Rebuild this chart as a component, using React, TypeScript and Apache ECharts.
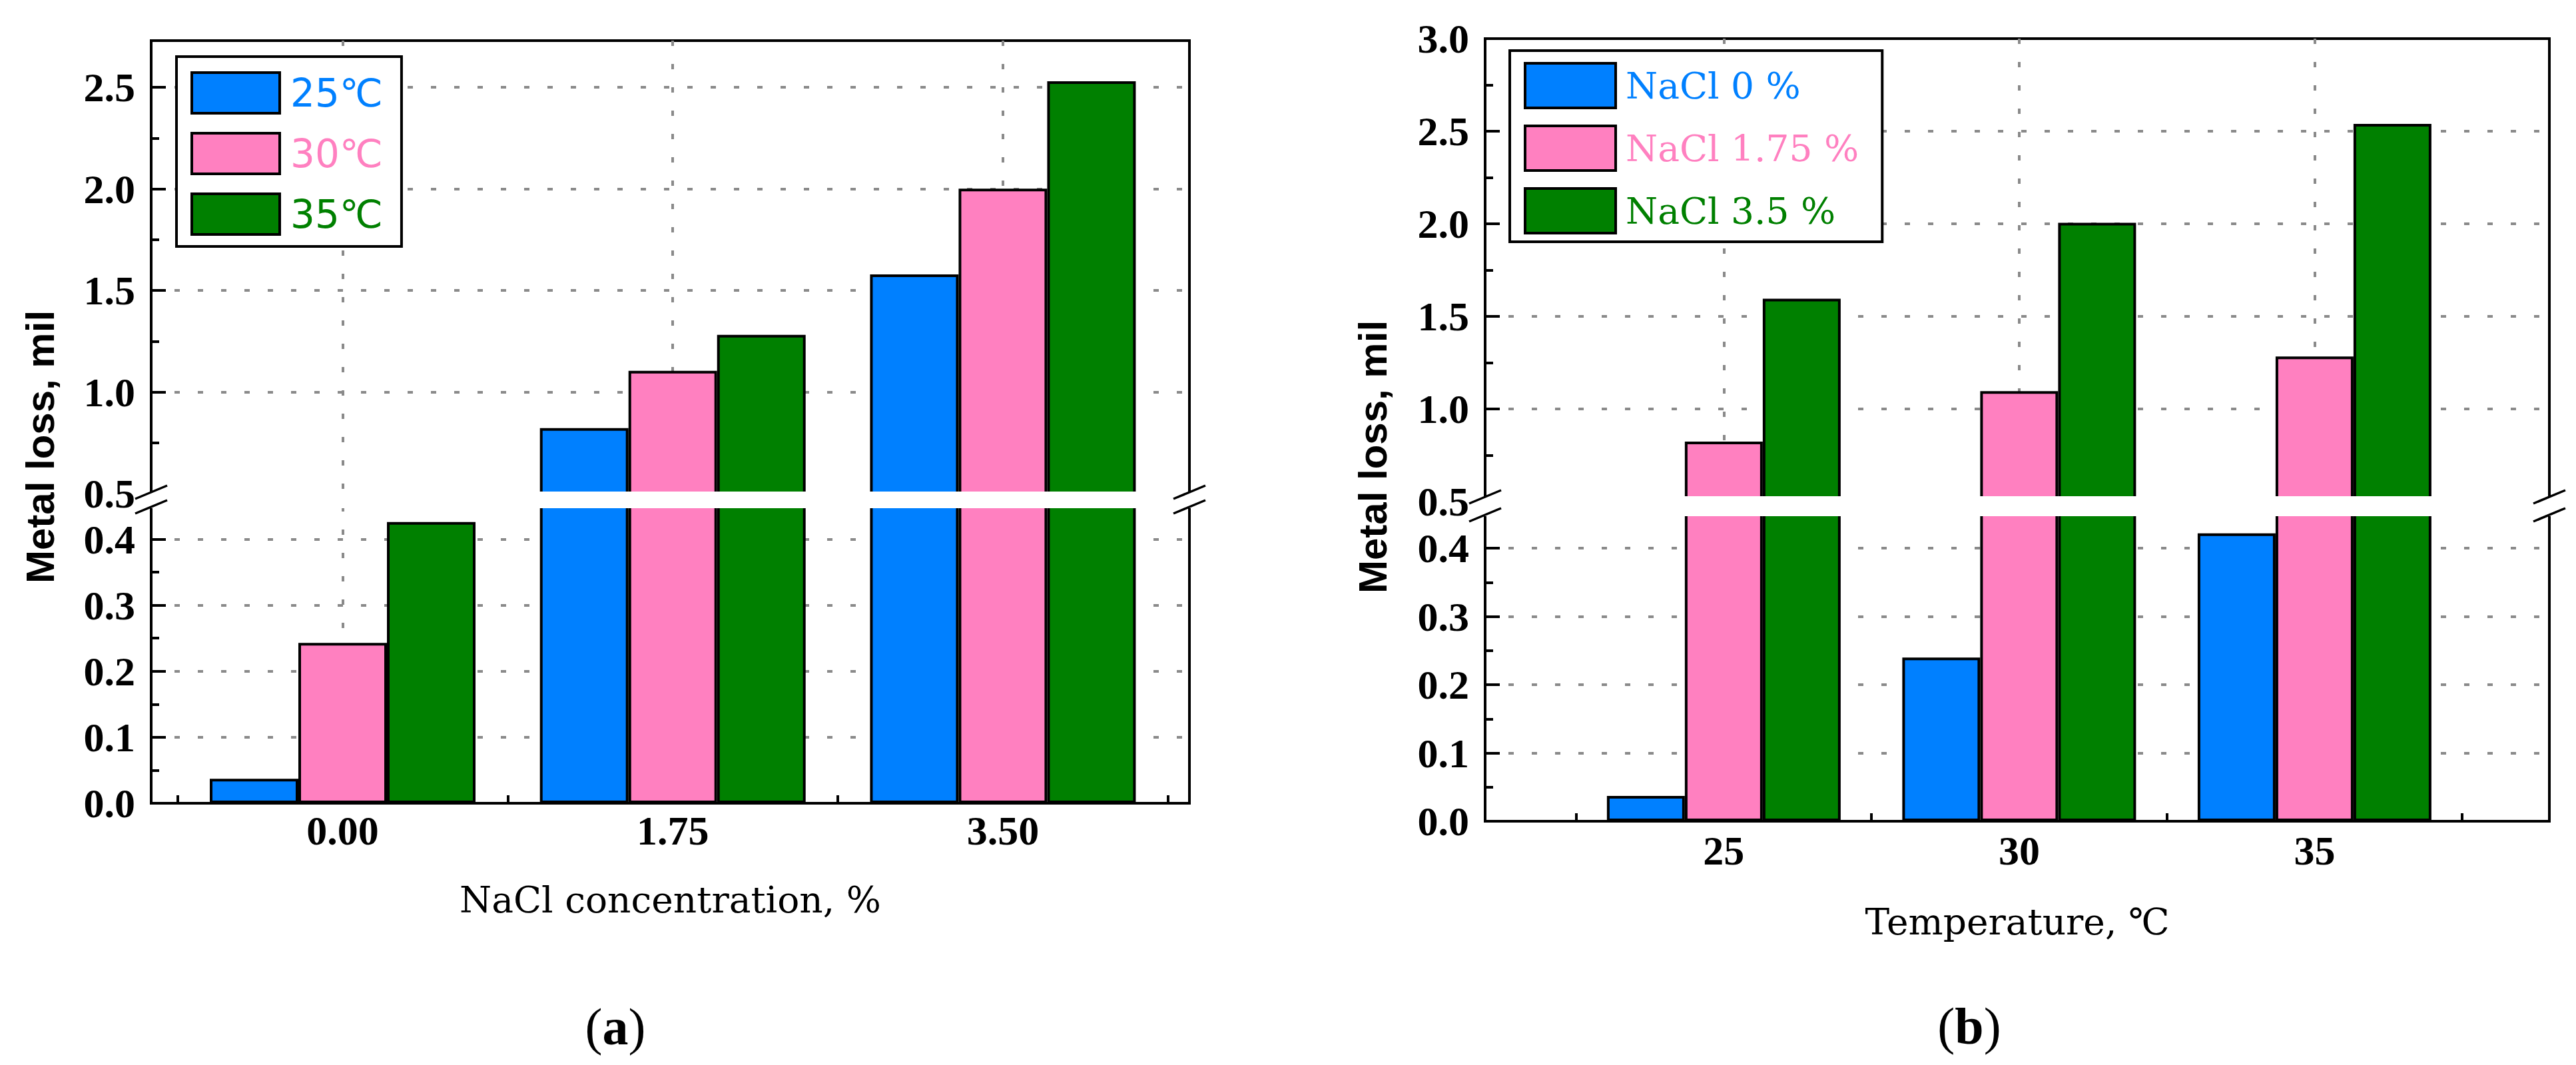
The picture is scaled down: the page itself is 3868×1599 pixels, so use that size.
import React, { useEffect, useRef } from 'react';
import * as echarts from 'echarts';

// ---------------- data ----------------
const positions = [1, 2, 3];
const minorPositions = [0.5, 1.5, 2.5, 3.5];

// (a) metal loss vs NaCl concentration
const naclLabels = ['0.00', '1.75', '3.50'];
const tempNames = ['25℃', '30℃', '35℃'];
const loss25C = [0.037, 0.822, 1.579];
const loss30C = [0.243, 1.104, 2.001];
const loss35C = [0.426, 1.281, 2.53];

// (b) metal loss vs temperature
const tempLabels = ['25', '30', '35'];
const naclNames = ['NaCl 0 %', 'NaCl 1.75 %', 'NaCl 3.5 %'];
const lossNaCl0 = [0.037, 0.24, 0.422];
const lossNaCl175 = [0.824, 1.096, 1.283];
const lossNaCl35 = [1.595, 2.005, 2.54];

// y tick values of the two axis segments
const lowerTickLabels = [0, 0.1, 0.2, 0.3, 0.4];
const upperTickLabelsA = [0.5, 1.0, 1.5, 2.0, 2.5];
const upperTickLabelsB = [0.5, 1.0, 1.5, 2.0, 2.5, 3.0];

const seriesColors = ['#0080FF', '#FF80C0', '#008000'];

// ---------------- layout ----------------
const panelA = {
  left: 227, right: 1786, upTop: 61, upBottom: 741, lowTop: 760, bottom: 1206,
  xMin: 0.42, xMax: 3.565, upMax: 2.73, barWidth: 133,
  gapTop: 738, gapBottom: 763, xLabelMargin: 10, xNameGap: 145,
  yTitleX: 60, yTitleY: 671, capX: 924, capY: 1541, capLetter: 'a',
  legend: {
    left: 265, top: 85, padding: [22, 28, 16, 21], itemWidth: 132, itemHeight: 61, itemGap: 26,
    font: 'DejaVu Sans', fontSize: 58, textPad: 11,
  },
};
const panelB = {
  left: 2230, right: 3828, upTop: 58, upBottom: 753, lowTop: 772, bottom: 1233,
  xMin: 0.192, xMax: 3.795, upMax: 3.0, barWidth: 117,
  gapTop: 745, gapBottom: 775, xLabelMargin: 13, xNameGap: 151,
  yTitleX: 2061, yTitleY: 686, capX: 2957, capY: 1540, capLetter: 'b',
  legend: {
    left: 2267, top: 76, padding: [17, 35, 11, 21], itemWidth: 136, itemHeight: 67, itemGap: 23,
    font: 'DejaVu Serif', fontSize: 55, textPad: 10,
  },
};

function buildPanel(
  P: any, idx: number, cats: string[], names: string[], values: number[][],
  upperLabels: number[], xTitle: string,
) {
  const g0 = idx * 2;
  const x0 = idx * 3;
  const y0 = idx * 2;
  const width = P.right - P.left;
  const black = { color: '#000', width: 4 };
  const gridBase = {
    show: true, borderColor: '#000', borderWidth: 4, backgroundColor: 'transparent',
    containLabel: false, outerBoundsMode: 'none',
  };
  const grids = [
    { ...gridBase, left: P.left, top: P.upTop, width, height: P.upBottom - P.upTop },
    { ...gridBase, left: P.left, top: P.lowTop, width, height: P.bottom - P.lowTop },
  ];
  const dotted = { color: '#8a8a8a', width: 4, type: [8, 27] };
  const splitLine = { show: true, lineStyle: dotted };
  const tickFont = { fontFamily: 'Liberation Serif', fontWeight: 'bold', fontSize: 62, color: '#000' };
  const baseX = { type: 'value', min: P.xMin, max: P.xMax, position: 'bottom' };
  const xAxes = [
    {
      ...baseX, gridIndex: g0,
      axisLine: { show: false, onZero: false },
      axisTick: { show: false, customValues: positions },
      axisLabel: { show: false, customValues: positions },
      splitLine,
    },
    {
      ...baseX, gridIndex: g0 + 1,
      axisLine: { show: true, onZero: false, lineStyle: black },
      axisTick: { show: true, inside: true, length: 22, customValues: positions, lineStyle: black },
      axisLabel: {
        show: true, customValues: positions, margin: P.xLabelMargin,
        formatter: (v: number) => cats[Math.round(v) - 1] ?? '', ...tickFont,
      },
      splitLine,
      name: xTitle, nameLocation: 'middle', nameGap: P.xNameGap,
      nameTextStyle: { fontFamily: 'DejaVu Serif', fontSize: 55, color: '#000', verticalAlign: 'middle' },
    },
    {
      ...baseX, gridIndex: g0 + 1,
      axisLine: { show: false, onZero: false },
      axisTick: { show: true, inside: true, length: 12, customValues: minorPositions, lineStyle: black },
      axisLabel: { show: false },
      splitLine: { show: false },
    },
  ];
  const baseY = {
    type: 'value',
    axisLine: { show: true, onZero: false, lineStyle: black },
    minorTick: { show: true, splitNumber: 2, length: 12, lineStyle: black },
    splitLine,
  };
  // ticks/grid lines only strictly inside each segment (the frame draws the edges)
  const upperTicks = upperLabels.filter((v) => v < P.upMax);
  const lowerTicks = lowerTickLabels.filter((v) => v > 0);
  const yAxes = [
    {
      ...baseY, gridIndex: g0, min: 0.5, max: P.upMax, interval: 0.5,
      axisTick: { show: true, inside: true, length: 22, customValues: upperTicks, lineStyle: black },
      axisLabel: { ...tickFont, margin: 24, customValues: upperLabels, formatter: (v: number) => v.toFixed(1) },
    },
    {
      ...baseY, gridIndex: g0 + 1, min: 0, max: 0.45, interval: 0.1,
      axisTick: { show: true, inside: true, length: 22, customValues: lowerTicks, lineStyle: black },
      axisLabel: { ...tickFont, margin: 24, customValues: lowerTickLabels, formatter: (v: number) => v.toFixed(1) },
    },
  ];
  const series: any[] = [];
  names.forEach((n, i) => {
    [0, 1].forEach((k) => {
      series.push({
        type: 'bar', name: n, xAxisIndex: x0 + k, yAxisIndex: y0 + k,
        data: positions.map((p, j) => [p, values[i][j]]),
        barWidth: P.barWidth, barGap: '0%', clip: true,
        itemStyle: { color: seriesColors[i], borderColor: '#000', borderWidth: 4 },
        emphasis: { disabled: true }, z: 2,
      });
    });
  });
  const L = P.legend;
  const legend = {
    orient: 'vertical', left: L.left, top: L.top, padding: L.padding,
    itemWidth: L.itemWidth, itemHeight: L.itemHeight, itemGap: L.itemGap,
    borderColor: '#000', borderWidth: 4, borderRadius: 0, backgroundColor: '#fff',
    icon: 'rect', selectedMode: false,
    itemStyle: { borderColor: '#000', borderWidth: 4 },
    textStyle: { fontFamily: L.font, fontSize: L.fontSize, lineHeight: L.itemHeight - 4, padding: [0, 0, 0, L.textPad] },
    data: names.map((n, i) => ({ name: n, textStyle: { color: seriesColors[i] } })),
  };
  const graphics: any[] = [
    {
      type: 'rect', z: 100,
      shape: { x: P.left - 8, y: P.gapTop, width: width + 16, height: P.gapBottom - P.gapTop },
      style: { fill: '#fff' },
    },
  ];
  [P.left, P.right].forEach((X: number) => {
    [P.gapTop + 1, P.gapBottom - 2].forEach((Y: number) => {
      graphics.push({
        type: 'line', z: 101,
        shape: { x1: X - 24, y1: Y + 10, x2: X + 24, y2: Y - 10 },
        style: { stroke: '#000', lineWidth: 3.5 },
      });
    });
  });
  graphics.push({
    type: 'text', z: 10, x: P.yTitleX, y: P.yTitleY, rotation: Math.PI / 2,
    style: {
      text: 'Metal loss, mil', font: 'bold 60px "Liberation Sans"', fill: '#000',
      align: 'center', verticalAlign: 'middle', textAlign: 'center', textVerticalAlign: 'middle',
    },
  });
  graphics.push({
    type: 'text', z: 10, x: P.capX, y: P.capY,
    style: {
      text: `{n|(}{b|${P.capLetter}}{n|)}`,
      align: 'center', verticalAlign: 'middle', textAlign: 'center', textVerticalAlign: 'middle',
      rich: {
        n: { font: '78px "Liberation Serif"', fill: '#000' },
        b: { font: 'bold 78px "Liberation Serif"', fill: '#000' },
      },
    },
  });
  return { grids, xAxes, yAxes, series, legend, graphics };
}

function buildOption() {
  const a = buildPanel(panelA, 0, naclLabels, tempNames, [loss25C, loss30C, loss35C], upperTickLabelsA, 'NaCl concentration, %');
  const b = buildPanel(panelB, 1, tempLabels, naclNames, [lossNaCl0, lossNaCl175, lossNaCl35], upperTickLabelsB, 'Temperature, ℃');
  return {
    animation: false,
    backgroundColor: '#ffffff',
    grid: [...a.grids, ...b.grids],
    xAxis: [...a.xAxes, ...b.xAxes],
    yAxis: [...a.yAxes, ...b.yAxes],
    series: [...a.series, ...b.series],
    legend: [a.legend, b.legend],
    graphic: { elements: [...a.graphics, ...b.graphics] },
  };
}

export default function App() {
  const ref = useRef<HTMLDivElement>(null);
  useEffect(() => {
    document.body.style.margin = '0';
    const chart = echarts.init(ref.current as HTMLDivElement, null, { renderer: 'svg' });
    chart.setOption(buildOption() as any);
    return () => chart.dispose();
  }, []);
  return (
    <div
      ref={ref}
      style={{ position: 'absolute', left: 0, top: 0, width: 3868, height: 1599, background: '#fff' }}
    />
  );
}
